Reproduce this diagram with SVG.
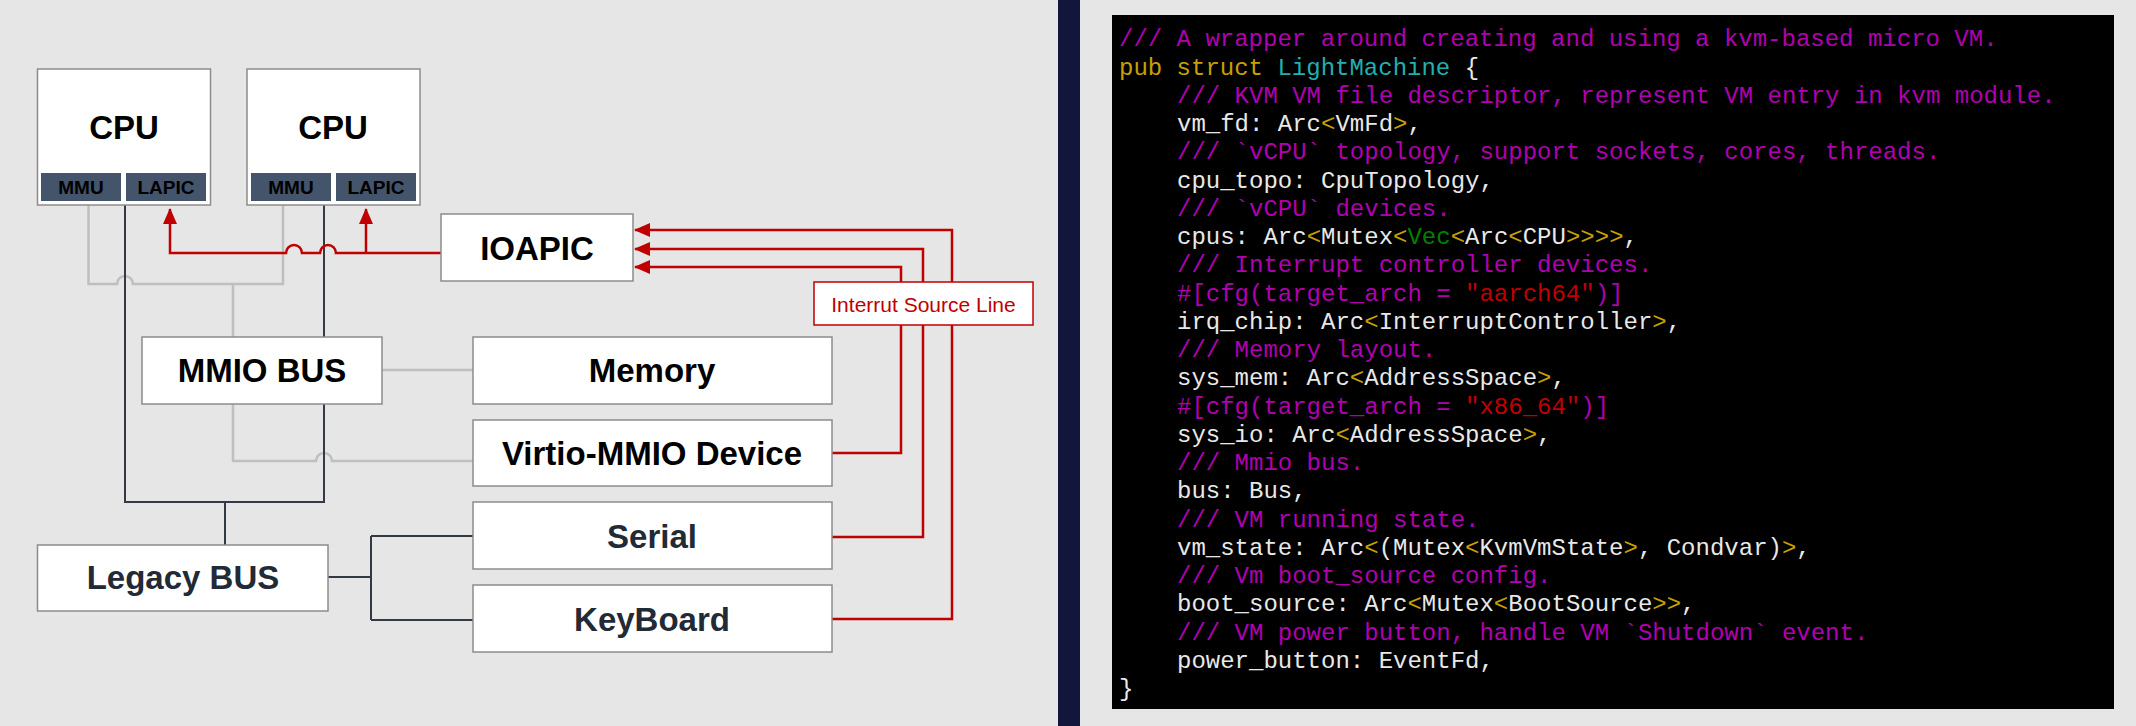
<svg xmlns="http://www.w3.org/2000/svg" width="2136" height="726" viewBox="0 0 2136 726">
<defs>
<marker id="ar" markerWidth="8" markerHeight="8" refX="7" refY="4" orient="auto" markerUnits="userSpaceOnUse" viewBox="0 0 8 8"><path d="M0,0 L8,4 L0,8 z" fill="#c00000"/></marker>
<marker id="ar2" markerWidth="16" markerHeight="16" refX="15" refY="8" orient="auto" markerUnits="userSpaceOnUse" viewBox="0 0 16 16"><path d="M0,1 L16,8 L0,15 z" fill="#c00000"/></marker>
<style>
.box{fill:#fff;stroke:#8c8c8c;stroke-width:1.5}
.t{font-family:"Liberation Sans",Arial,sans-serif;font-weight:bold;font-size:33px;text-anchor:middle;dominant-baseline:central;fill:#000}
.td{fill:#222a35}
.bar{fill:#44546a}
.bt{font-family:"Liberation Sans",Arial,sans-serif;font-weight:bold;font-size:19px;text-anchor:middle;dominant-baseline:central;fill:#000}
.g{fill:none;stroke:#bfbfbf;stroke-width:2.5}
.d{fill:none;stroke:#333a45;stroke-width:2}
.r{fill:none;stroke:#c00000;stroke-width:2.5}
.code{font-family:"Liberation Mono","Courier New",monospace;font-size:24px;fill:#e8e8e8;white-space:pre}
.c{fill:#b000b0}.k{fill:#c8a000}.ty{fill:#20b0b0}.gr{fill:#008000}.s{fill:#c00000}.y{fill:#c8a000}
</style>
</defs>
<rect x="0" y="0" width="2136" height="726" fill="#e6e6e6"/>
<rect x="1058" y="0" width="22" height="726" fill="#12163a"/>

<g id="connectors">
<path class="g" d="M88.5,205 V284 H117 A8,8 0 0 1 133,284 H283 V205"/>
<path class="g" d="M233,284 V337"/>
<path class="g" d="M382,370 H473"/>
<path class="g" d="M233,404 V461 H316 A8,8 0 0 1 332,461 H473"/>
<path class="d" d="M125,205 V502 H324 V205"/>
<path class="d" d="M225,502 V545"/>
<path class="d" d="M328,577 H371 M371,536 V620 M371,536 H473 M371,620 H473"/>
<path class="r" d="M441,253 H336 A8,8 0 0 0 320,253 H302 A8,8 0 0 0 286,253 H170 V209" marker-end="url(#ar2)"/>
<path class="r" d="M366,253 V209" marker-end="url(#ar2)"/>
<path class="r" d="M832,453 H901 V267 H635" marker-end="url(#ar2)"/>
<path class="r" d="M832,537 H923 V249 H635" marker-end="url(#ar2)"/>
<path class="r" d="M832,619 H952 V230 H635" marker-end="url(#ar2)"/>
</g>

<g id="cpu1"><rect class="box" x="37.5" y="69" width="173" height="136"/><text class="t" x="124" y="127">CPU</text>
<rect class="bar" x="41" y="173" width="80" height="28"/><text class="bt" x="81" y="187">MMU</text>
<rect class="bar" x="126" y="173" width="80" height="28"/><text class="bt" x="166" y="187">LAPIC</text></g>
<g id="cpu2"><rect class="box" x="247" y="69" width="173" height="136"/><text class="t" x="333" y="127">CPU</text>
<rect class="bar" x="251" y="173" width="80" height="28"/><text class="bt" x="291" y="187">MMU</text>
<rect class="bar" x="336" y="173" width="80" height="28"/><text class="bt" x="376" y="187">LAPIC</text></g>
<g id="ioapic"><rect class="box" x="441" y="214" width="192" height="67"/><text class="t" x="537" y="248">IOAPIC</text></g>
<g id="label"><rect x="814" y="282" width="219" height="43" fill="#fff" stroke="#c00000" stroke-width="1.5"/><text x="923.5" y="304" font-family="'Liberation Sans',Arial,sans-serif" font-size="21" fill="#c00000" text-anchor="middle" dominant-baseline="central">Interrut Source Line</text></g>
<g id="mmio"><rect class="box" x="142" y="337" width="240" height="67"/><text class="t" x="262" y="370">MMIO BUS</text></g>
<g id="memory"><rect class="box" x="473" y="337" width="359" height="67"/><text class="t" x="652" y="370">Memory</text></g>
<g id="virtio"><rect class="box" x="473" y="420" width="359" height="66"/><text class="t" x="652" y="453">Virtio-MMIO Device</text></g>
<g id="serial"><rect class="box" x="473" y="502" width="359" height="67"/><text class="t td" x="652" y="536">Serial</text></g>
<g id="keyboard"><rect class="box" x="473" y="585" width="359" height="67"/><text class="t td" x="652" y="619">KeyBoard</text></g>
<g id="legacy"><rect class="box" x="37.5" y="545" width="290.5" height="66"/><text class="t td" x="183" y="577">Legacy BUS</text></g>

<g id="code">
<rect x="1112" y="15" width="1002" height="694" fill="#000"/>
<text class="code" x="1119" y="46"><tspan class="c">/// A wrapper around creating and using a kvm-based micro VM.</tspan></text>
<text class="code" x="1119" y="75"><tspan class="k">pub struct </tspan><tspan class="ty">LightMachine</tspan> {</text>
<text class="code" x="1177" y="103"><tspan class="c">/// KVM VM file descriptor, represent VM entry in kvm module.</tspan></text>
<text class="code" x="1177" y="131">vm_fd: Arc<tspan class="y">&lt;</tspan>VmFd<tspan class="y">&gt;</tspan>,</text>
<text class="code" x="1177" y="159"><tspan class="c">/// `vCPU` topology, support sockets, cores, threads.</tspan></text>
<text class="code" x="1177" y="188">cpu_topo: CpuTopology,</text>
<text class="code" x="1177" y="216"><tspan class="c">/// `vCPU` devices.</tspan></text>
<text class="code" x="1177" y="244">cpus: Arc<tspan class="y">&lt;</tspan>Mutex<tspan class="y">&lt;</tspan><tspan class="gr">Vec</tspan><tspan class="y">&lt;</tspan>Arc<tspan class="y">&lt;</tspan>CPU<tspan class="y">&gt;&gt;&gt;&gt;</tspan>,</text>
<text class="code" x="1177" y="272"><tspan class="c">/// Interrupt controller devices.</tspan></text>
<text class="code" x="1177" y="301"><tspan class="c">#[cfg(target_arch = </tspan><tspan class="s">"aarch64"</tspan><tspan class="c">)]</tspan></text>
<text class="code" x="1177" y="329">irq_chip: Arc<tspan class="y">&lt;</tspan>InterruptController<tspan class="y">&gt;</tspan>,</text>
<text class="code" x="1177" y="357"><tspan class="c">/// Memory layout.</tspan></text>
<text class="code" x="1177" y="385">sys_mem: Arc<tspan class="y">&lt;</tspan>AddressSpace<tspan class="y">&gt;</tspan>,</text>
<text class="code" x="1177" y="414"><tspan class="c">#[cfg(target_arch = </tspan><tspan class="s">"x86_64"</tspan><tspan class="c">)]</tspan></text>
<text class="code" x="1177" y="442">sys_io: Arc<tspan class="y">&lt;</tspan>AddressSpace<tspan class="y">&gt;</tspan>,</text>
<text class="code" x="1177" y="470"><tspan class="c">/// Mmio bus.</tspan></text>
<text class="code" x="1177" y="498">bus: Bus,</text>
<text class="code" x="1177" y="527"><tspan class="c">/// VM running state.</tspan></text>
<text class="code" x="1177" y="555">vm_state: Arc<tspan class="y">&lt;</tspan>(Mutex<tspan class="y">&lt;</tspan>KvmVmState<tspan class="y">&gt;</tspan>, Condvar)<tspan class="y">&gt;</tspan>,</text>
<text class="code" x="1177" y="583"><tspan class="c">/// Vm boot_source config.</tspan></text>
<text class="code" x="1177" y="611">boot_source: Arc<tspan class="y">&lt;</tspan>Mutex<tspan class="y">&lt;</tspan>BootSource<tspan class="y">&gt;&gt;</tspan>,</text>
<text class="code" x="1177" y="640"><tspan class="c">/// VM power button, handle VM `Shutdown` event.</tspan></text>
<text class="code" x="1177" y="668">power_button: EventFd,</text>
<text class="code" x="1119" y="696">}</text>
</g>
</svg>
